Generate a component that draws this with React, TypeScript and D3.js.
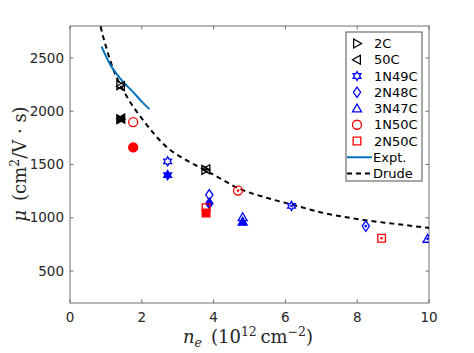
import React from "react";
import * as d3 from "d3";

const W = 474;
const H = 353;
const M = { left: 70, right: 429, top: 26, bottom: 303 };

const xTicks = [0, 2, 4, 6, 8, 10];
const yTicks = [500, 1000, 1500, 2000, 2500];

type Pt = [number, number];
type Shape = "right" | "left" | "hexagram" | "diamond" | "triangle" | "circle" | "square";

const seriesNames = ["2C", "50C", "1N49C", "2N48C", "3N47C", "1N50C", "2N50C"];
const seriesShapes: Shape[] = ["right", "left", "hexagram", "diamond", "triangle", "circle", "square"];
const seriesColors = ["#000000", "#000000", "#0000ff", "#0000ff", "#0000ff", "#ff0000", "#ff0000"];

// open markers
const openPts: Pt[][] = [
  [[1.4, 2245]],
  [[1.42, 2235]],
  [[2.72, 1530]],
  [[3.88, 1215]],
  [[4.81, 1005]],
  [[1.76, 1898]],
  [[3.79, 1095]],
];
// filled markers
const filledPts: Pt[][] = [
  [[1.4, 1925]],
  [[1.43, 1930]],
  [[2.72, 1400]],
  [[3.88, 1135]],
  [[4.81, 962]],
  [[1.76, 1660]],
  [[3.79, 1045]],
];
// open markers with centre dot
const dottedPts: Pt[][] = [
  [[3.77, 1450]],
  [[3.8, 1455]],
  [[6.17, 1112]],
  [[8.24, 922]],
  [[9.96, 802]],
  [[4.68, 1255]],
  [[8.68, 808]],
];

const exptX = [0.88, 1.1, 1.39, 1.76, 2.0, 2.21];
const exptY = [2606, 2450, 2310, 2180, 2090, 2020];

const drudeX = [0.8, 0.85, 1.0, 1.21, 1.58, 2.04, 2.69, 3.3, 3.81, 4.74, 5.5, 6.17, 7.0, 8.17, 9.0, 10];
const drudeY = [2880, 2800, 2610, 2390, 2140, 1915, 1665, 1530, 1440, 1270, 1185, 1125, 1050, 980, 945, 905];

const x = d3.scaleLinear().domain([0, 10]).range([M.left, M.right]);
const y = d3.scaleLinear().domain([200, 2800]).range([M.bottom, M.top]);

function markerPath(shape: Shape, r: number): string {
  switch (shape) {
    case "right":
      return `M${-r * 0.75},${-r}L${r},0L${-r * 0.75},${r}Z`;
    case "left":
      return `M${r * 0.75},${-r}L${-r},0L${r * 0.75},${r}Z`;
    case "triangle":
      return `M0,${-r}L${r},${r * 0.75}L${-r},${r * 0.75}Z`;
    case "diamond":
      return `M0,${-r * 1.15}L${r * 0.8},0L0,${r * 1.15}L${-r * 0.8},0Z`;
    case "square": {
      const s = r * 0.85;
      return `M${-s},${-s}H${s}V${s}H${-s}Z`;
    }
    case "circle":
      return `M${r},0A${r},${r} 0 1,1 ${-r},0A${r},${r} 0 1,1 ${r},0Z`;
    case "hexagram": {
      const pts: string[] = [];
      const ri = r / Math.sqrt(3);
      for (let i = 0; i < 12; i++) {
        const a = (i * Math.PI) / 6 - Math.PI / 2;
        const rr = i % 2 === 0 ? r : ri;
        pts.push(`${rr * Math.cos(a)},${rr * Math.sin(a)}`);
      }
      return "M" + pts.join("L") + "Z";
    }
  }
}

const exptLine = d3
  .line<number>()
  .x((d, i) => x(exptX[i]))
  .y((d) => y(d))
  .curve(d3.curveMonotoneX);
const drudeLine = d3
  .line<number>()
  .x((d, i) => x(drudeX[i]))
  .y((d) => y(d))
  .curve(d3.curveMonotoneX);

const axisColor = "#6e6e6e";
const tickFont = "DejaVu Sans, sans-serif";
const mathFont = "'DejaVu Serif', 'Liberation Serif', serif";

export default function App() {
  const r = 4.5;
  const legX = 346;
  const legY = 32;
  const legW = 76;
  const legH = 149;
  const legStep = 16.25;
  return (
    <svg width={W} height={H} style={{ position: "absolute", left: 0, top: 0, background: "#fff" }}>
      <defs>
        <clipPath id="plot">
          <rect x={M.left} y={M.top} width={M.right - M.left} height={M.bottom - M.top} />
        </clipPath>
      </defs>
      <rect x={0} y={0} width={W} height={H} fill="#fff" />

      {/* box */}
      <rect
        x={M.left}
        y={M.top}
        width={M.right - M.left}
        height={M.bottom - M.top}
        fill="none"
        stroke={axisColor}
        strokeWidth={1}
      />
      {xTicks.map((t) => (
        <g key={"xt" + t}>
          <line x1={x(t)} x2={x(t)} y1={M.bottom} y2={M.bottom - 3.5} stroke={axisColor} />
          <line x1={x(t)} x2={x(t)} y1={M.top} y2={M.top + 3.5} stroke={axisColor} />
          <text x={x(t)} y={322} textAnchor="middle" fontFamily={tickFont} fontSize={13.5} fill="#262626">
            {t}
          </text>
        </g>
      ))}
      {yTicks.map((t) => (
        <g key={"yt" + t}>
          <line x1={M.left} x2={M.left + 3.5} y1={y(t)} y2={y(t)} stroke={axisColor} />
          <line x1={M.right} x2={M.right - 3.5} y1={y(t)} y2={y(t)} stroke={axisColor} />
          <text
            x={64}
            y={y(t)}
            dy="0.35em"
            textAnchor="end"
            fontFamily={tickFont}
            fontSize={13.5}
            fill="#262626"
          >
            {t}
          </text>
        </g>
      ))}

      {/* axis labels */}
      <text x={248} y={343} textAnchor="middle" fontFamily={mathFont} fontSize={18} fill="#262626">
        <tspan fontStyle="italic">n</tspan>
        <tspan fontStyle="italic" fontSize={12.5} dy={4}>
          e
        </tspan>
        <tspan dy={-4}>{"\u2002(10"}</tspan>
        <tspan fontSize={12.5} dy={-7}>
          12
        </tspan>
        <tspan dy={7}>{"\u2009cm"}</tspan>
        <tspan fontSize={12.5} dy={-7}>
          {"\u22122"}
        </tspan>
        <tspan dy={7}>)</tspan>
      </text>
      <text
        transform={`translate(26,164) rotate(-90)`}
        textAnchor="middle"
        fontFamily={mathFont}
        fontSize={18}
        fill="#262626"
      >
        <tspan fontStyle="italic">μ</tspan>
        <tspan>{"\u2002(cm"}</tspan>
        <tspan fontSize={12.5} dy={-7}>
          2
        </tspan>
        <tspan dy={7}>{"/V \u00b7 s)"}</tspan>
      </text>

      <g clipPath="url(#plot)">
        <path d={drudeLine(drudeY) || ""} fill="none" stroke="#000" strokeWidth={2} strokeDasharray="5,4" />
        <path d={exptLine(exptY) || ""} fill="none" stroke="#0072BD" strokeWidth={2} />

        {seriesNames.map((name, si) => (
          <g key={name}>
            {openPts[si].map((p, i) => (
              <path
                key={"o" + i}
                d={markerPath(seriesShapes[si], r)}
                transform={`translate(${x(p[0])},${y(p[1])})`}
                fill="none"
                stroke={seriesColors[si]}
                strokeWidth={1.3}
              />
            ))}
            {filledPts[si].map((p, i) => (
              <path
                key={"f" + i}
                d={markerPath(seriesShapes[si], r)}
                transform={`translate(${x(p[0])},${y(p[1])})`}
                fill={seriesColors[si]}
                stroke={seriesColors[si]}
                strokeWidth={1.3}
              />
            ))}
            {dottedPts[si].map((p, i) => (
              <g key={"d" + i} transform={`translate(${x(p[0])},${y(p[1])})`}>
                <path d={markerPath(seriesShapes[si], r)} fill="none" stroke={seriesColors[si]} strokeWidth={1.3} />
                <circle r={1.3} fill={seriesColors[si]} />
              </g>
            ))}
          </g>
        ))}
      </g>

      {/* legend */}
      <rect x={legX} y={legY} width={legW} height={legH} fill="#fff" stroke="#262626" strokeWidth={0.8} />
      {seriesNames.map((name, i) => {
        const cy = 43.5 + i * legStep;
        return (
          <g key={"lg" + name}>
            <path
              d={markerPath(seriesShapes[i], r)}
              transform={`translate(357,${cy})`}
              fill="none"
              stroke={seriesColors[i]}
              strokeWidth={1.3}
            />
            <text x={374} y={cy} dy="0.36em" fontFamily={tickFont} fontSize={13} fill="#000">
              {name}
            </text>
          </g>
        );
      })}
      {(() => {
        const cy1 = 43.5 + 7 * legStep;
        const cy2 = 43.5 + 8 * legStep;
        return (
          <g>
            <line x1={347} x2={372} y1={cy1} y2={cy1} stroke="#0072BD" strokeWidth={2} />
            <text x={373} y={cy1} dy="0.36em" fontFamily={tickFont} fontSize={13} fill="#000">
              Expt.
            </text>
            <line x1={347} x2={372} y1={cy2} y2={cy2} stroke="#000" strokeWidth={2} strokeDasharray="5,4" />
            <text x={373} y={cy2} dy="0.36em" fontFamily={tickFont} fontSize={13} fill="#000">
              Drude
            </text>
          </g>
        );
      })()}
    </svg>
  );
}
